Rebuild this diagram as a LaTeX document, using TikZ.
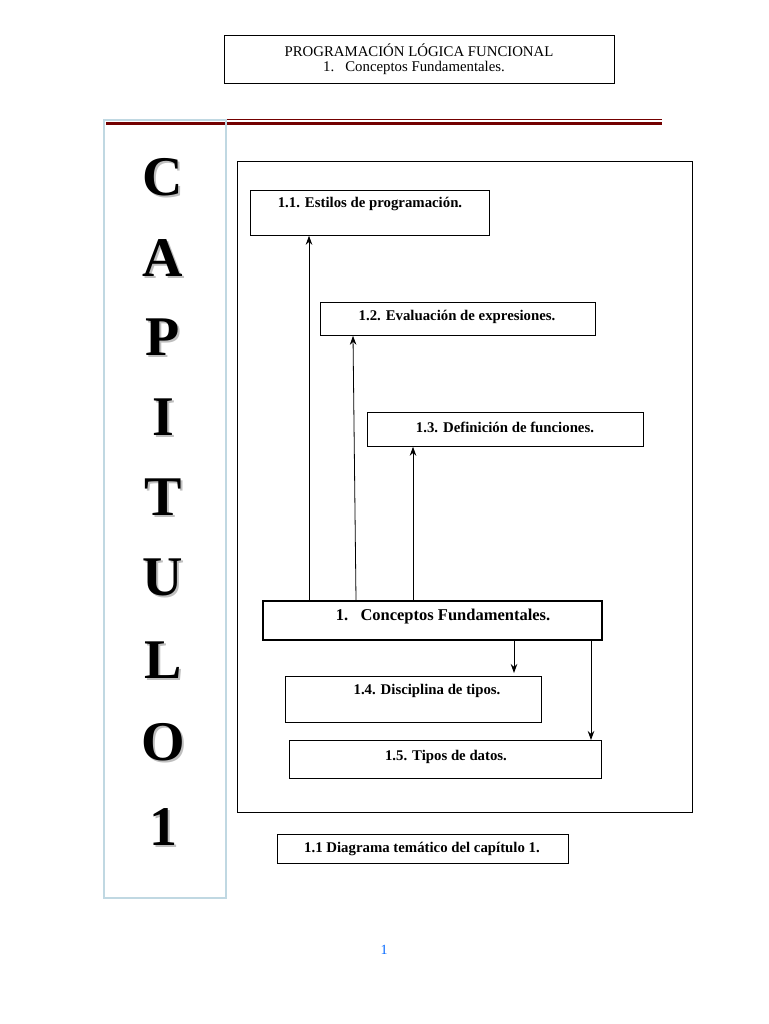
\documentclass[tikz,border=0pt]{standalone}
\usepackage{fontspec}
\setmainfont{Liberation Serif}
\usetikzlibrary{arrows.meta}
\begin{document}
\begin{tikzpicture}[x=1pt,y=-1pt,
  box/.style={draw,line width=0.8pt,anchor=north west,inner sep=0pt},
  lbl/.style={font=\fontsize{14.8}{17}\selectfont\bfseries,inner sep=0pt},
  arr/.style={line width=0.8pt,-{Stealth[length=9pt,width=6.5pt]}},
  capletter/.style={font=\fontsize{56}{60}\selectfont\bfseries,inner sep=0pt}]
\useasboundingbox (0,0) rectangle (768,1024);
% header
\node[box,minimum width=390,minimum height=48] (hdr) at (224,35) {};
\node[font=\fontsize{14.8}{17}\selectfont,inner sep=0pt] (h1) at (419,50) {PROGRAMACIÓN LÓGICA FUNCIONAL};
\node[font=\fontsize{14.8}{17}\selectfont,inner sep=0pt] (h2) at (414,68) {1.\enspace\ Conceptos Fundamentales.};
% red rule
\draw[line width=3pt,color=red!45!black] (106,124) -- (662,124);
\draw[line width=0.6pt,color=red!45!black] (106,119.5) -- (662,119.5);
% side bar
\node[box,draw=gray!60!cyan!40,line width=2pt,minimum width=122,minimum height=778,fill=none] (bar) at (103,119) {};
\foreach \c/\yy [count=\i] in {C/177,A/258,P/337,I/417,T/497,U/577,L/660,O/742,1/827}{
  \node[capletter,text=gray!50] (sh\i) at (165,\yy+2) {\c};
  \node[capletter] (l\i) at (163,\yy) {\c};
}
% frame
\node[box,minimum width=455,minimum height=651] (frame) at (237,161) {};
% boxes
\node[box,minimum width=239,minimum height=45] (b1) at (250,190) {};
\node[lbl] (t1) at (370,204) {1.1. Estilos de programación.};
\node[box,minimum width=275,minimum height=33] (b2) at (320,302) {};
\node[lbl] (t2) at (457,317) {1.2. Evaluación de expresiones.};
\node[box,minimum width=276,minimum height=34] (b3) at (367,412) {};
\node[lbl] (t3) at (505,427) {1.3. Definición de funciones.};
\node[box,line width=1.6pt,minimum width=339,minimum height=39] (m) at (262,600) {};
\node[lbl,font=\fontsize{16.5}{19}\selectfont\bfseries] (tm) at (443,617) {1.\enspace\ Conceptos Fundamentales.};
\node[box,minimum width=256,minimum height=46] (b4) at (285,676) {};
\node[lbl] (t4) at (427,691) {1.4. Disciplina de tipos.};
\node[box,minimum width=312,minimum height=38] (b5) at (289,740) {};
\node[lbl] (t5) at (446,757) {1.5. Tipos de datos.};
\node[box,minimum width=291,minimum height=29] (cb) at (277,834) {};
\node[lbl] (tc) at (422,849) {1.1 Diagrama temático del capítulo 1.};
\node[font=\fontsize{14}{16}\selectfont,text=blue!60!cyan,inner sep=0pt] (pg) at (384,950) {1};
% arrows
\draw[arr] (m.north -| 309,0) -- (b1.south -| 309,0);
\draw[arr] (m.north -| 356,0) -- (b2.south -| 353,0);
\draw[arr] (m.north -| 413,0) -- (b3.south -| 413,0);
\coordinate (e4) at (514,673);
\draw[arr] (m.south -| 514,0) -- (e4);
\draw[arr] (m.south -| 591,0) -- (b5.north -| 591,0);
\end{tikzpicture}
\end{document}
